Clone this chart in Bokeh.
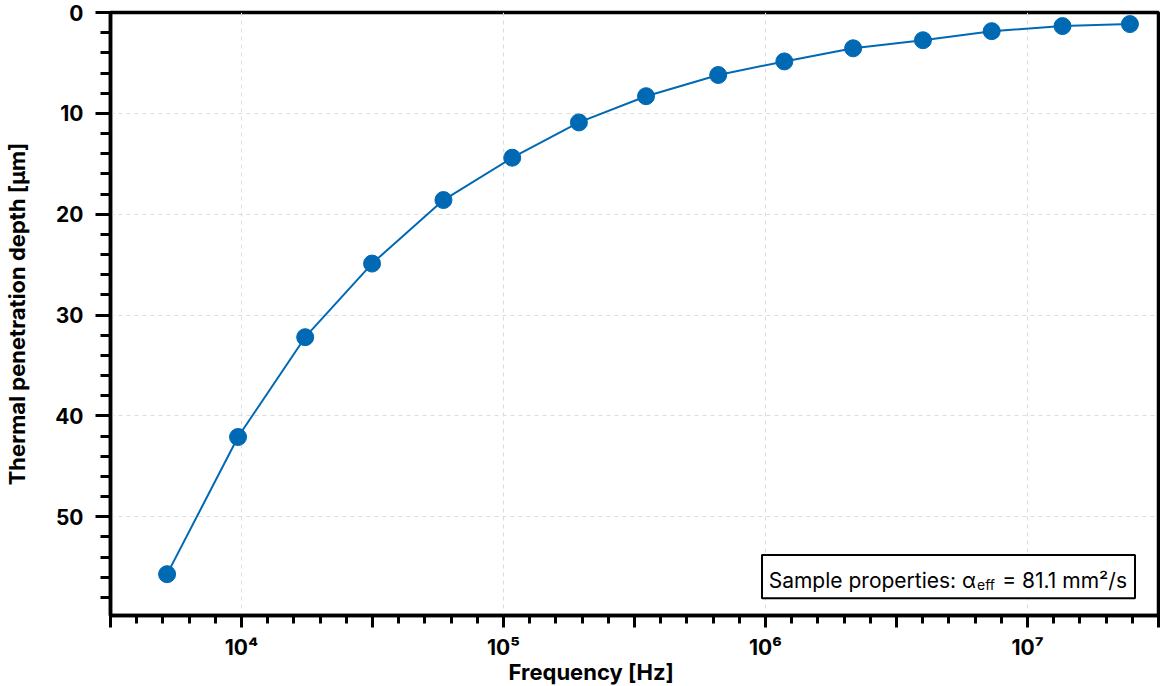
from bokeh.plotting import figure
from bokeh.models import FixedTicker, Range1d, BoxAnnotation, Label, Title, ColumnDataSource
from bokeh.embed import file_html
from bokeh.resources import INLINE

# ---- data ----
frequency_hz = [5.2e3, 9.7e3, 1.75e4, 3.15e4, 5.9e4, 1.08e5, 1.94e5, 3.5e5,
                6.6e5, 1.18e6, 2.16e6, 3.99e6, 7.3e6, 1.36e7, 2.46e7]
depth_um = [55.7, 42.1, 32.2, 24.9, 18.6, 14.4, 10.9, 8.3,
            6.2, 4.85, 3.55, 2.75, 1.85, 1.35, 1.15]

x_decades = [1e4, 1e5, 1e6, 1e7]
x_decade_labels = ["10⁴", "10⁵", "10⁶", "10⁷"]
x_half_decades = [10 ** 3.5, 10 ** 4.5, 10 ** 5.5, 10 ** 6.5, 10 ** 7.5]
x_minor = [10 ** (k / 10) for k in range(35, 76)]

y_major = [0, 10, 20, 30, 40, 50]
y_minor = list(range(0, 60, 2))

legend_prefix = "Sample properties: α"
legend_sub = "eff"
legend_suffix = "= 81.1 mm²/s"

FONT = "Inter"
BLUE = "#0069B4"

p = figure(x_axis_type="log",
           x_range=Range1d(10 ** 3.5, 10 ** 7.5),
           y_range=Range1d(59.8, 0),
           frame_width=1048, frame_height=603,
           min_border_left=110, min_border_right=2,
           min_border_top=12, min_border_bottom=71,
           output_backend="svg", toolbar_location=None,
           background_fill_color="white", border_fill_color="white")

p.outline_line_color = "black"
p.outline_line_width = 3.5

# x axis
xa = p.xaxis[0]
xa.ticker = FixedTicker(ticks=sorted(x_decades + x_half_decades), minor_ticks=x_minor)
overrides = {v: "" for v in x_half_decades}
overrides.update({v: lab for v, lab in zip(x_decades, x_decade_labels)})
xa.major_label_overrides = overrides
xa.axis_line_width = 3.5
xa.major_tick_line_width = 3
xa.minor_tick_line_width = 3
xa.major_tick_out = 12
xa.major_tick_in = 0
xa.minor_tick_out = 8
xa.minor_tick_in = 0
xa.major_label_standoff = 7
xa.major_label_text_font = FONT
xa.major_label_text_font_size = "21px"
xa.major_label_text_font_style = "bold"
xa.major_label_text_color = "black"

# y axis
ya = p.yaxis[0]
ya.ticker = FixedTicker(ticks=y_major, minor_ticks=y_minor)
ya.axis_line_width = 3.5
ya.major_tick_line_width = 3
ya.minor_tick_line_width = 3
ya.major_tick_out = 15
ya.major_tick_in = 0
ya.minor_tick_out = 10
ya.minor_tick_in = 0
ya.major_label_standoff = 12
ya.major_label_text_font = FONT
ya.major_label_text_font_size = "21px"
ya.major_label_text_font_style = "bold"
ya.major_label_text_color = "black"
ya.axis_label = "Thermal penetration depth [µm]"
ya.axis_label_text_font = FONT
ya.axis_label_text_font_size = "22px"
ya.axis_label_text_font_style = "bold"
ya.axis_label_text_color = "black"
ya.axis_label_standoff = 22

# grids
p.xgrid.ticker = FixedTicker(ticks=x_decades)
p.ygrid.ticker = FixedTicker(ticks=y_major)
for g in (p.xgrid, p.ygrid):
    g.grid_line_color = "#dcdcdc"
    g.grid_line_dash = "4 4"
    g.grid_line_width = 1

# x label as a title below (shifted left like the reference)
p.add_layout(Title(text="Frequency [Hz]", align="left", offset=398, standoff=-11,
                   text_font=FONT, text_font_size="22px", text_font_style="bold",
                   text_color="black"), "below")

src = ColumnDataSource(dict(f=frequency_hz, d=depth_um))
p.line("f", "d", source=src, line_color=BLUE, line_width=2)
p.scatter("f", "d", source=src, size=17, fill_color=BLUE, line_color=BLUE)

# annotation box
p.add_layout(BoxAnnotation(left=10 ** 5.9866, right=10 ** 7.4103, top=53.8, bottom=58.08,
                           fill_color="white", fill_alpha=1.0,
                           line_color="black", line_alpha=1.0, line_width=2,
                           level="annotation"))
p.add_layout(Label(x=10 ** 6.8034, y=56.36, text=legend_prefix, text_align="right",
                   text_baseline="alphabetic", text_font=FONT, text_font_size="21px",
                   text_color="black"))
p.add_layout(Label(x=10 ** 6.8072, y=56.72, text=legend_sub, text_align="left",
                   text_baseline="alphabetic", text_font=FONT, text_font_size="14px",
                   text_color="black"))
p.add_layout(Label(x=10 ** 7.3798, y=56.36, text=legend_suffix, text_align="right",
                   text_baseline="alphabetic", text_font=FONT, text_font_size="21px",
                   text_color="black"))

open("out.html", "w").write(file_html(p, INLINE))
